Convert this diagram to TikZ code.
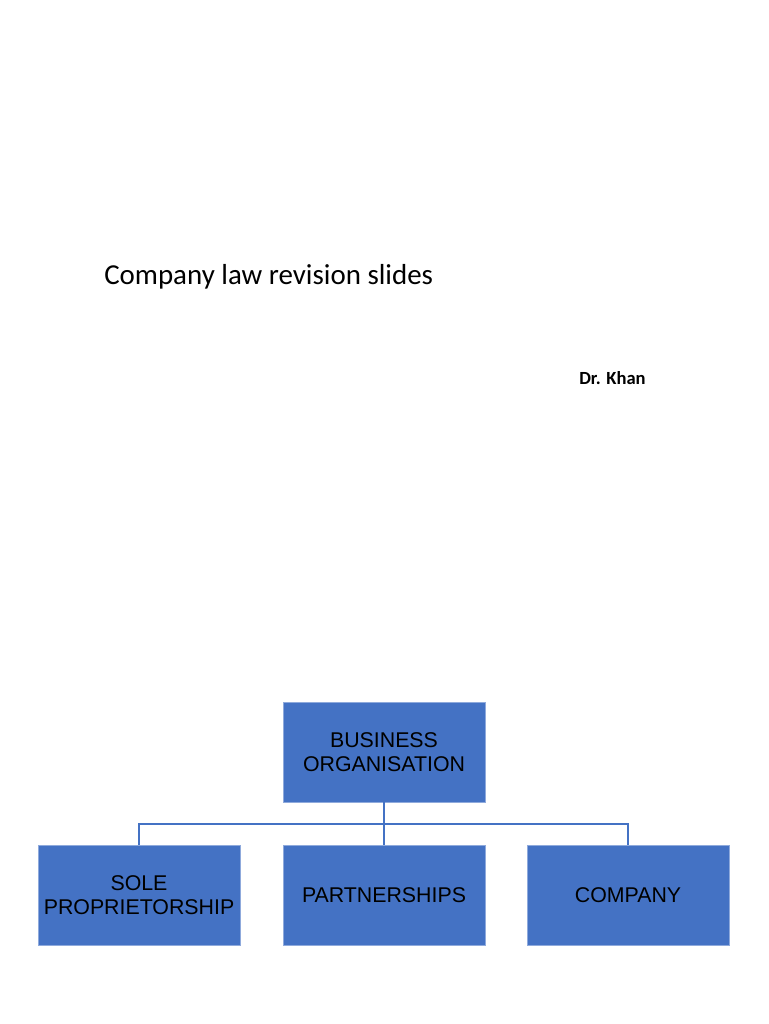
\documentclass[tikz,border=0pt]{standalone}
\usepackage{fontspec}
\setmainfont{Carlito}
\newfontfamily\boxfont{Liberation Sans}
\definecolor{boxblue}{HTML}{4472C4}
\definecolor{boxedge}{HTML}{8FAADC}
\tikzset{
  orgbox/.style={rectangle, fill=boxblue, draw=boxedge, line width=0.6pt,
    minimum width=151.5pt, minimum height=75pt, align=center,
    font=\boxfont\fontsize{16}{18}\selectfont, text=black},
  link/.style={draw=boxblue, line width=1pt}
}
\begin{document}
\begin{tikzpicture}[x=0.75pt, y=-0.75pt]
  \useasboundingbox (0,0) rectangle (768,1024);
  % Title slide text
  \node[anchor=base west, inner sep=0pt, font=\fontsize{21.7}{25}\selectfont] (title) at (104,284) {Company law revision slides};
  \node[anchor=base west, inner sep=0pt, font=\bfseries\fontsize{13.9}{16}\selectfont] (author) at (579,384) {Dr. Khan};

  % Organisation chart
  \node[orgbox] (bo) at (384,752) {BUSINESS\\ORGANISATION};
  \node[orgbox] (sp) at (139,895) {SOLE\\PROPRIETORSHIP};
  \node[orgbox] (pa) at (384,895) {PARTNERSHIPS};
  \node[orgbox] (co) at (628,895) {COMPANY};
  \coordinate (split) at (384,824);
  \draw[link] (bo.south) -- (split);
  \draw[link] (split) -| (sp.north);
  \draw[link] (split) -- (pa.north);
  \draw[link] (split) -| (co.north);
\end{tikzpicture}
\end{document}
